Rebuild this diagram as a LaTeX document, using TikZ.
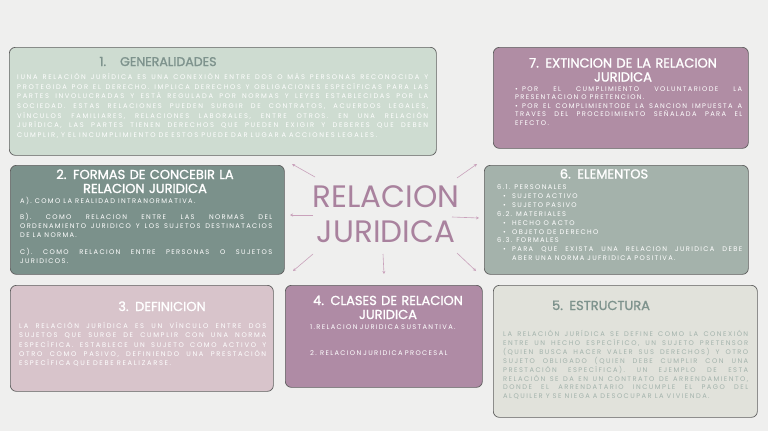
\documentclass[tikz,border=0pt]{standalone}
\usepackage{fontspec}
\usetikzlibrary{arrows.meta}
\setmainfont{Poppins}
\newfontfamily\bodyfont{Poppins}[LetterSpace=20]
\newfontfamily\midfont{Poppins}[LetterSpace=22]
\newfontfamily\widefont{Poppins}[LetterSpace=25]
\newfontfamily\ttlfont{Poppins}[FakeBold=1.4]
\newcommand\wsp{\spaceskip=3pt plus 6pt minus 1pt\relax}
\definecolor{bgcol}{HTML}{EFEFEE}
\definecolor{edge}{HTML}{5E5E5E}
\definecolor{sage}{HTML}{CEDCD1}
\definecolor{sagetxt}{HTML}{7E938D}
\definecolor{mauve}{HTML}{B08DA4}
\definecolor{teal}{HTML}{7B918B}
\definecolor{greygreen}{HTML}{A4B2AB}
\definecolor{rose}{HTML}{D8C4CB}
\definecolor{plum}{HTML}{AF8BA5}
\definecolor{stone}{HTML}{E1E2DB}
\definecolor{stonetxt}{HTML}{A3B3AC}
\definecolor{rjcol}{HTML}{A9829E}
\definecolor{arrcol}{HTML}{C9A2BB}
\newcommand\itm[3]{\par\hangindent=#2\hangafter=1\noindent\hspace*{#1}\makebox[\dimexpr#2-#1\relax][l]{\textbullet}#3\par}
\tikzset{
  box/.style={draw=edge, line width=0.7pt, rounded corners=6pt, anchor=north west, inner sep=0pt},
  ttl/.style={text=white, font=\ttlfont\fontsize{13}{14}\selectfont, align=center, inner sep=0pt, anchor=base},
  txt/.style={text=white, font=\bodyfont\fontsize{6.7}{#1}\selectfont\wsp, align=justify, inner sep=0pt, anchor=base west},
  txt/.default=9,
  wide/.style={font=\widefont\fontsize{6.7}{#1}\selectfont\wsp},
  mid/.style={font=\midfont\fontsize{6.7}{#1}\selectfont\wsp},
  arr/.style={draw=arrcol, line width=0.6pt, -{Stealth[length=3pt,width=3pt]}}
}
\begin{document}
\begin{tikzpicture}[x=1pt,y=-1pt]
\fill[bgcol] (0,0) rectangle (768,431);
\useasboundingbox (0,0) rectangle (768,431);
\node[box, fill=sage, minimum width=427pt, minimum height=108pt] (gen) at (9,47) {};
\node[box, fill=mauve, minimum width=255pt, minimum height=101pt] (ext) at (493,47) {};
\node[box, fill=teal, minimum width=274pt, minimum height=109pt] (formas) at (10,165) {};
\node[box, fill=greygreen, minimum width=264pt, minimum height=109pt] (elem) at (484,165) {};
\node[box, fill=rose, minimum width=263pt, minimum height=106pt] (defi) at (10,285) {};
\node[box, fill=plum, minimum width=197pt, minimum height=102pt] (clases) at (285,285) {};
\node[box, fill=stone, minimum width=264pt, minimum height=132pt] (estr) at (493,285) {};

\node[text=rjcol, font=\fontsize{31}{35}\selectfont, align=center, inner sep=0pt, text width=200pt, anchor=base] (rj) at (386,207) {RELACION\\JURIDICA};

\node[ttl, text=sagetxt, text width=200pt, font=\ttlfont\fontsize{12.6}{15}\selectfont] (gent) at (158,66) {1.\hspace{14pt}GENERALIDADES};
\node[txt, wide=9.67, text width=411pt] (genb) at (17,79.5) {IUNA RELACIÓN JURÍDICA ES UNA CONEXIÓN ENTRE DOS O MÁS PERSONAS RECONOCIDA Y\linebreak PROTEGIDA POR EL DERECHO. IMPLICA DERECHOS Y OBLIGACIONES ESPECÍFICAS PARA LAS\linebreak PARTES INVOLUCRADAS Y ESTÁ REGULADA POR NORMAS Y LEYES ESTABLECIDAS POR LA\linebreak SOCIEDAD. ESTAS RELACIONES PUEDEN SURGIR DE CONTRATOS, ACUERDOS LEGALES,\linebreak VÍNCULOS FAMILIARES, RELACIONES LABORALES, ENTRE OTROS. EN UNA RELACIÓN\linebreak JURÍDICA, LAS PARTES TIENEN DERECHOS QUE PUEDEN EXIGIR Y DEBERES QUE DEBEN\linebreak CUMPLIR, Y EL INCUMPLIMIENTO DE ESTOS PUEDE DAR LUGAR A ACCIONES LEGALES.};

\node[ttl, text width=250pt] (extt) at (623,67.5) {7. EXTINCION DE LA RELACION\\JURIDICA};
\node[txt=8.5, text width=227pt] (extb) at (515,91) {\noindent\makebox[7pt][l]{\textbullet}POR EL CUMPLIMIENTO VOLUNTARIODE LA\linebreak PRESENTACION O PRETENCION.\par\noindent\makebox[7pt][l]{\textbullet}POR EL COMPLIMIENTODE LA SANCION IMPUESTA A\linebreak TRAVES DEL PROCEDIMIENTO SEÑALADA PARA EL\linebreak EFECTO.};

\node[ttl, text width=270pt] (formast) at (145,179) {2. FORMAS DE CONCEBIR LA\\RELACION JURIDICA};
\node[txt=9.3, text width=252pt] (formasb) at (20,203) {A). COMO LA REALIDAD INTRANORMATIVA.\par\vspace{7pt}B). COMO RELACION ENTRE LAS NORMAS DEL\linebreak ORDENAMIENTO JURIDICO Y LOS SUJETOS DESTINATACIOS\linebreak DE LA NORMA.\par\vspace{7pt}C). COMO RELACION ENTRE PERSONAS O SUJETOS\linebreak JURIDICOS.};

\node[ttl, text width=200pt] (elemt) at (604,178.5) {6. ELEMENTOS};
\node[txt=8.9, text width=245pt] (elemb) at (497,189.5) {6.1. PERSONALES\itm{6pt}{15pt}{SUJETO ACTIVO}\itm{6pt}{15pt}{SUJETO PASIVO}\noindent 6.2. MATERIALES\itm{6pt}{15pt}{HECHO O ACTO}\itm{6pt}{15pt}{OBJETO DE DERECHO}\noindent 6.3. FORMALES\itm{6pt}{15pt}{PARA QUE EXISTA UNA RELACION JURIDICA DEBE\linebreak ABER UNA NORMA JUFRIDICA POSITIVA.}};

\node[ttl, text width=200pt] (defit) at (162,311) {3. DEFINICION};
\node[txt, wide=9.25, text width=247pt] (defib) at (19,328.5) {LA RELACIÓN JURÍDICA ES UN VÍNCULO ENTRE DOS\linebreak SUJETOS QUE SURGE DE CUMPLIR CON UNA NORMA\linebreak ESPECÍFICA. ESTABLECE UN SUJETO COMO ACTIVO Y\linebreak OTRO COMO PASIVO, DEFINIENDO UNA PRESTACIÓN\linebreak ESPECÍFICA QUE DEBE REALIZARSE.};

\node[ttl, text width=195pt] (clasest) at (388,305) {4. CLASES DE RELACION\\JURIDICA};
\node[txt, align=left, text width=175pt] (clasesb) at (310,329) {1.RELACION JURIDICA SUSTANTIVA.\par\vspace{17pt}2. RELACION JURIDICA PROCESAL};

\node[ttl, text=sagetxt, text width=200pt] (estrt) at (601,310) {5. ESTRUCTURA};
\node[txt, mid=8.9, text=stonetxt, text width=245pt] (estrb) at (503,336.5) {LA RELACIÓN JURÍDICA SE DEFINE COMO LA CONEXIÓN\linebreak ENTRE UN HECHO ESPECÍFICO, UN SUJETO PRETENSOR\linebreak (QUIEN BUSCA HACER VALER SUS DERECHOS) Y OTRO\linebreak SUJETO OBLIGADO (QUIEN DEBE CUMPLIR CON UNA\linebreak PRESTACIÓN ESPECÍFICA). UN EJEMPLO DE ESTA\linebreak RELACIÓN SE DA EN UN CONTRATO DE ARRENDAMIENTO,\linebreak DONDE EL ARRENDATARIO INCUMPLE EL PAGO DEL\linebreak ALQUILER Y SE NIEGA A DESOCUPAR LA VIVIENDA.};

\coordinate (ulS) at (315,177); \coordinate (ulE) at (292,164);
\coordinate (urS) at (457,178); \coordinate (urE) at (477,164);
\coordinate (lS) at (313,215); \coordinate (lE) at (290,215);
\coordinate (rS) at (452,217); \coordinate (rE) at (479,218);
\coordinate (llS) at (313,254); \coordinate (llE) at (293,271);
\coordinate (dS) at (383,254); \coordinate (dE) at (384,274);
\coordinate (lrS) at (457,253); \coordinate (lrE) at (476,271);
\foreach \a in {ul,ur,l,r,ll,d,lr}
  \draw[arr] (\a S) -- (\a E);
\end{tikzpicture}
\end{document}
